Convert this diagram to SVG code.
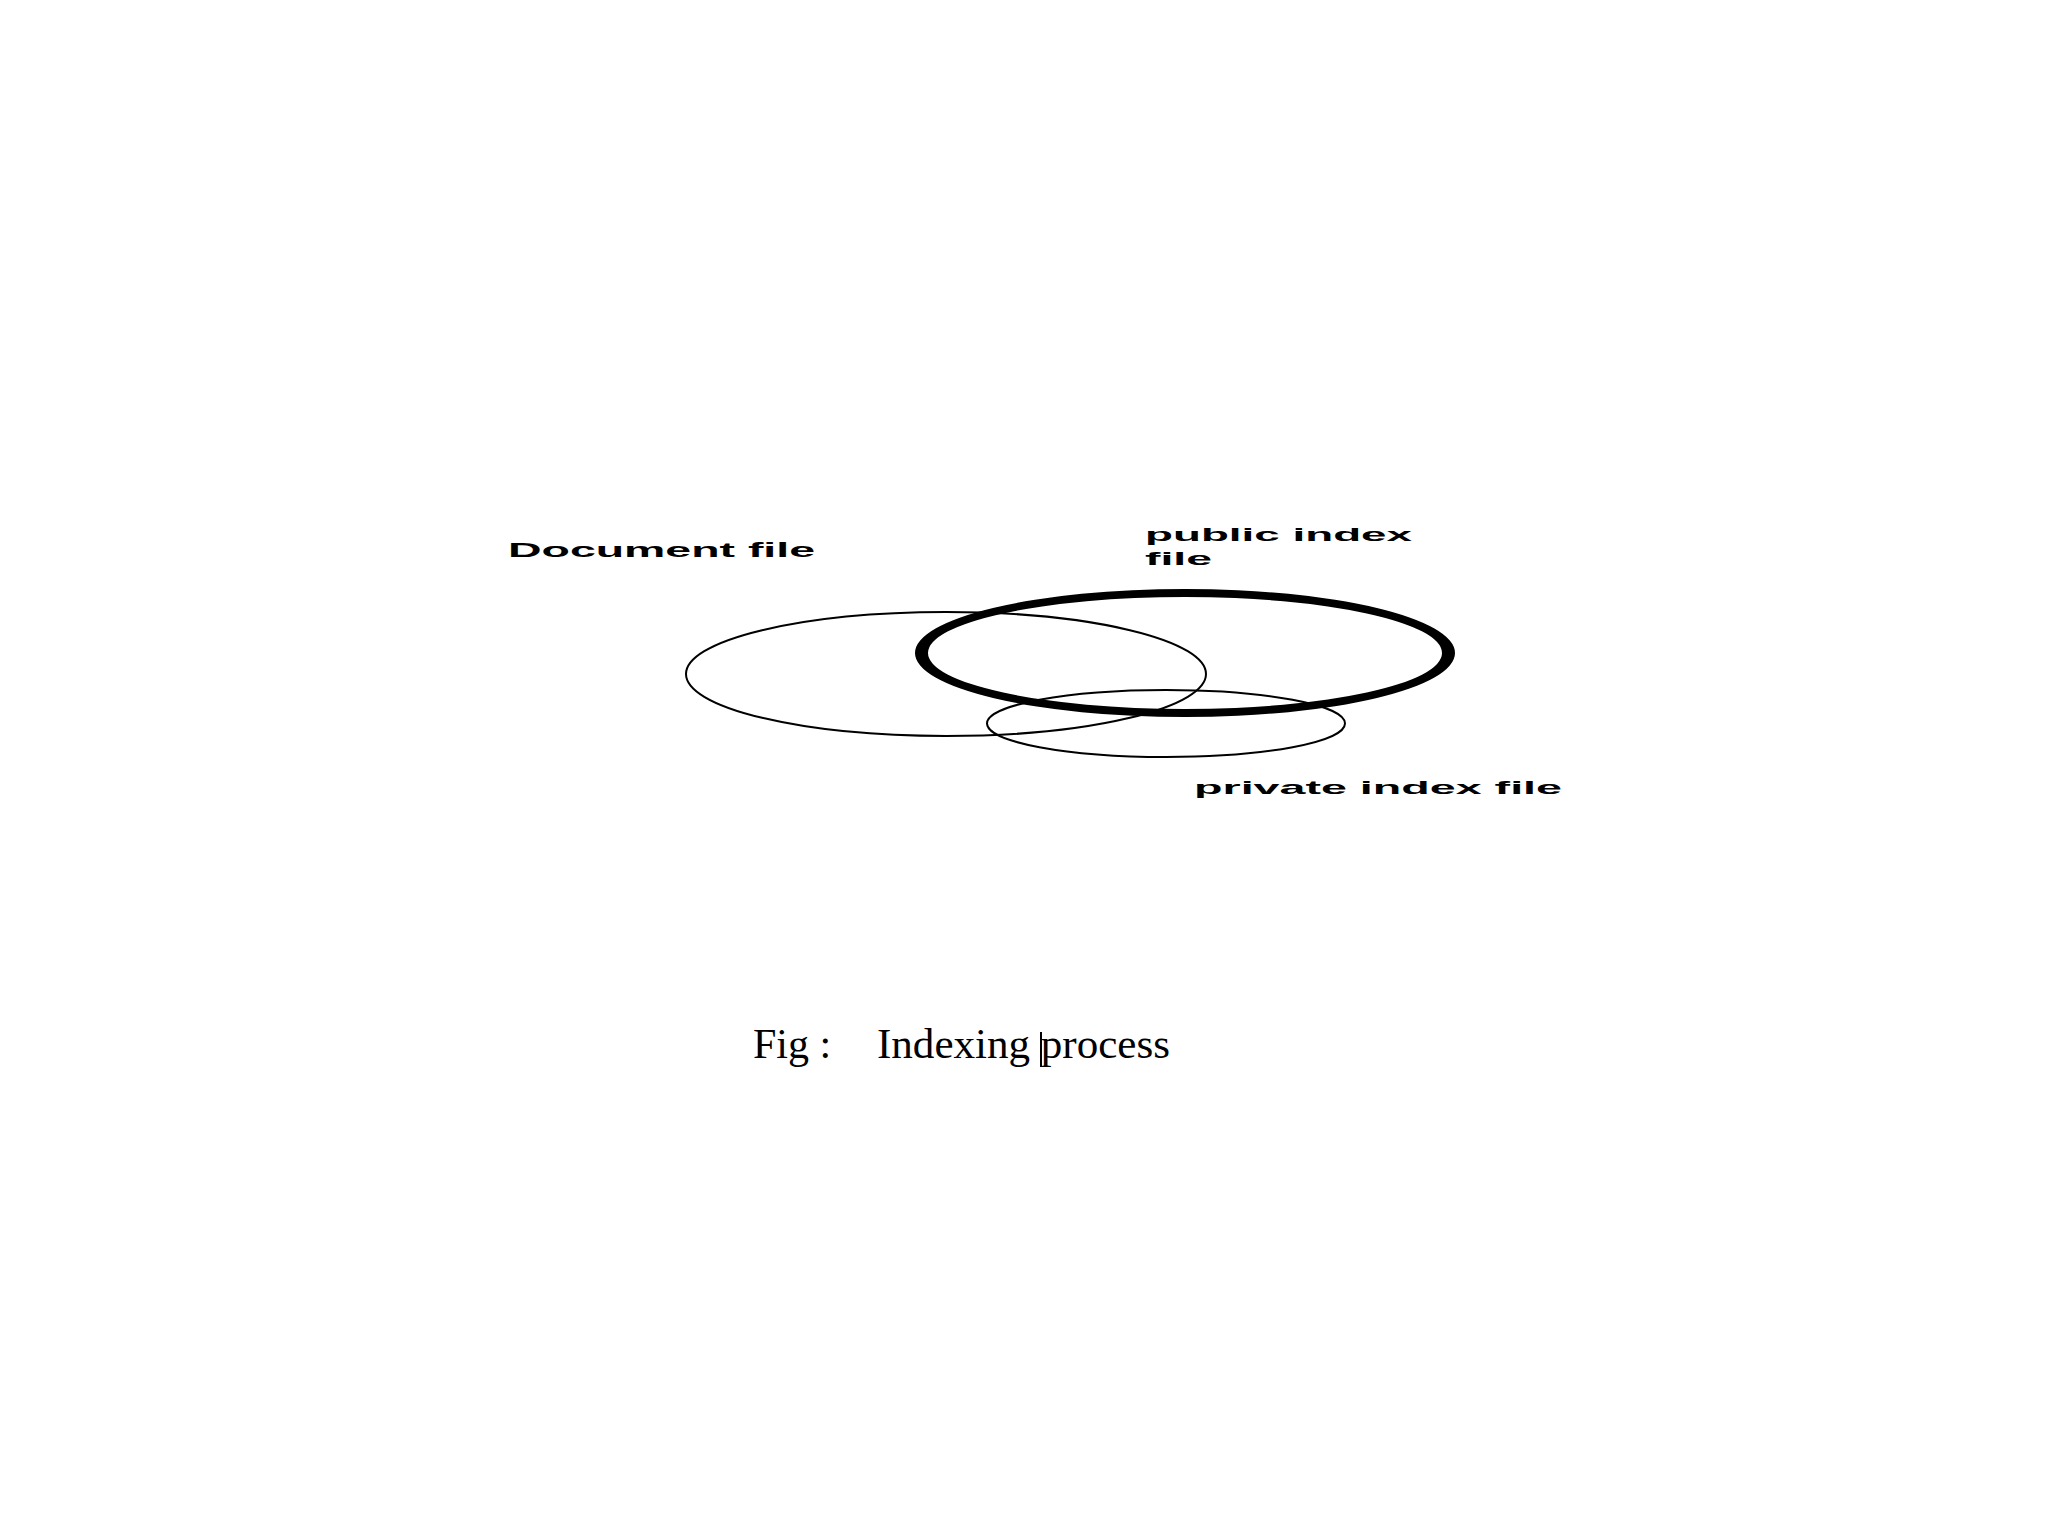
<svg xmlns="http://www.w3.org/2000/svg" width="2048" height="1536" viewBox="0 0 2048 1536">
  <style>
    .thin { fill: none; stroke: #000; stroke-width: 2; }
    .label { font-family: "Liberation Sans", Arial, sans-serif; font-weight: bold; fill: #000; }
    .caption { font-family: "Liberation Serif", "Times New Roman", serif; font-size: 42px; fill: #000; }
  </style>
  <rect x="0" y="0" width="2048" height="1536" fill="#fff"/>
  <g id="document-file">
    <ellipse class="thin" cx="946" cy="674" rx="260" ry="62"/>
    <text class="label" x="508" y="557" font-size="20" textLength="307" lengthAdjust="spacingAndGlyphs">Document file</text>
  </g>
  <g id="public-index-file">
    <path fill="#000" fill-rule="evenodd" d="M915,653 a270,64 0 1,0 540,0 a270,64 0 1,0 -540,0 Z M928,653 a257,56 0 1,0 514,0 a257,56 0 1,0 -514,0 Z"/>
    <text class="label" x="1145" y="541" font-size="18" textLength="267" lengthAdjust="spacingAndGlyphs">public index</text>
    <text class="label" x="1145" y="565" font-size="18" textLength="67" lengthAdjust="spacingAndGlyphs">file</text>
  </g>
  <g id="private-index-file">
    <ellipse class="thin" cx="1166" cy="723.5" rx="179" ry="33.5"/>
    <text class="label" x="1194" y="794" font-size="19" textLength="368" lengthAdjust="spacingAndGlyphs">private index file</text>
  </g>
  <g id="connectors"></g>
  <g id="caption">
    <text class="caption" x="753" y="1058">Fig :</text>
    <text class="caption" x="877" y="1058" textLength="293" lengthAdjust="spacingAndGlyphs">Indexing process</text>
    <line x1="1041" y1="1032" x2="1041" y2="1067" stroke="#000" stroke-width="2"/>
  </g>
</svg>
